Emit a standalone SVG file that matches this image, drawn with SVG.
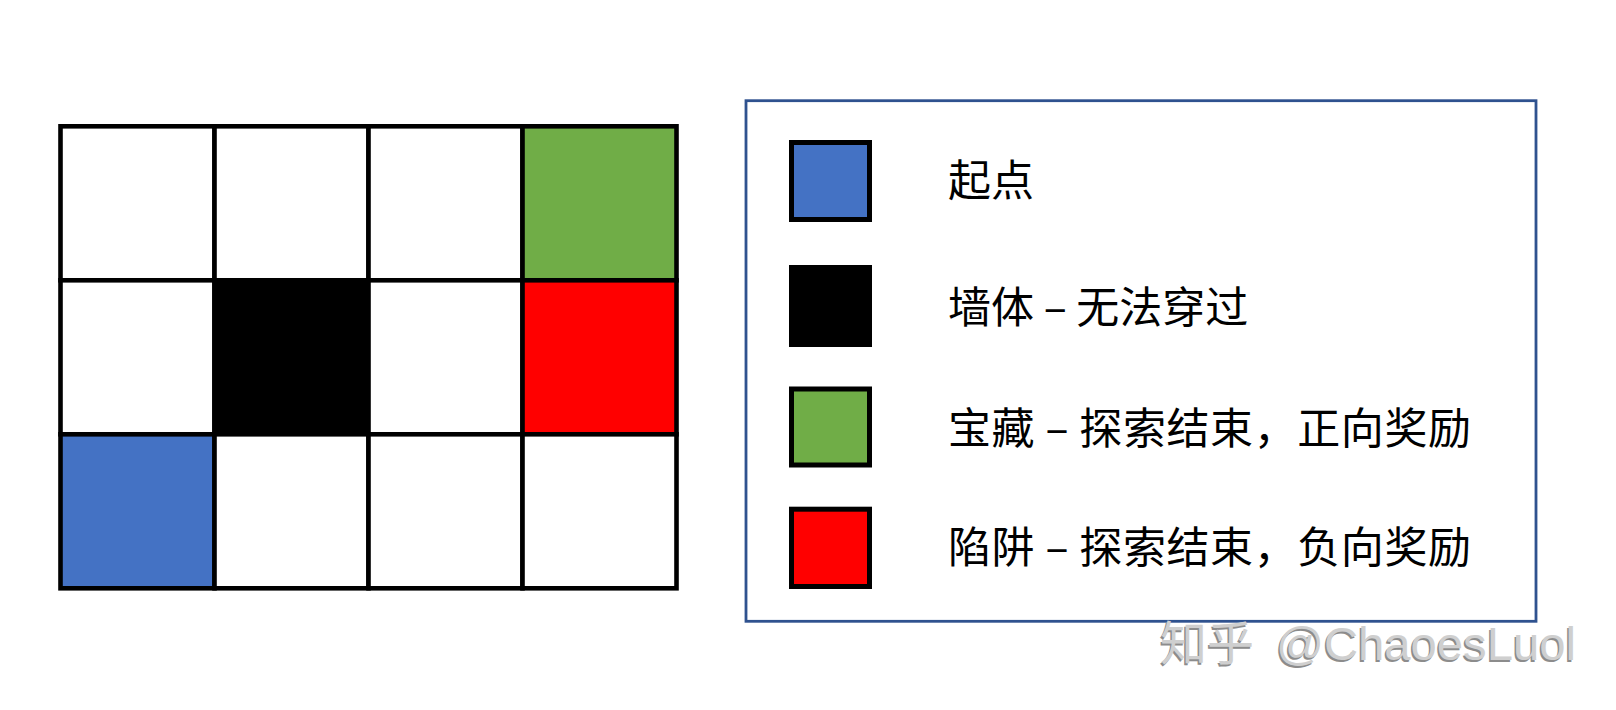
<svg xmlns="http://www.w3.org/2000/svg" width="1616" height="710" viewBox="0 0 1616 710">
  <style>
    .cell { stroke: #000; stroke-width: 4.6; }
    .key { stroke: #000; stroke-width: 5; }
    .lbl { font-family: "Noto Sans CJK SC", "Liberation Sans", sans-serif; font-size: 43px; fill: #000; }
    .wm { font-family: "Liberation Sans", "Noto Sans CJK SC", sans-serif; font-size: 47px; }
  </style>
  <rect width="1616" height="710" fill="#fff"/>
  <g id="grid">
    <rect class="cell" x="60.5" y="126.3" width="154" height="154" fill="#fff"/>
    <rect class="cell" x="214.5" y="126.3" width="154" height="154" fill="#fff"/>
    <rect class="cell" x="368.5" y="126.3" width="154" height="154" fill="#fff"/>
    <rect class="cell" x="522.5" y="126.3" width="154" height="154" fill="#70AD47"/>
    <rect class="cell" x="60.5" y="280.3" width="154" height="154" fill="#fff"/>
    <rect class="cell" x="214.5" y="280.3" width="154" height="154" fill="#000"/>
    <rect class="cell" x="368.5" y="280.3" width="154" height="154" fill="#fff"/>
    <rect class="cell" x="522.5" y="280.3" width="154" height="154" fill="#FF0000"/>
    <rect class="cell" x="60.5" y="434.3" width="154" height="154" fill="#4472C4"/>
    <rect class="cell" x="214.5" y="434.3" width="154" height="154" fill="#fff"/>
    <rect class="cell" x="368.5" y="434.3" width="154" height="154" fill="#fff"/>
    <rect class="cell" x="522.5" y="434.3" width="154" height="154" fill="#fff"/>
  </g>
  <g id="legend">
    <rect x="746" y="100.7" width="790" height="520.6" fill="none" stroke="#2F528F" stroke-width="2.8"/>
    <g id="key-start">
      <rect class="key" x="791.5" y="142.5" width="78" height="77" fill="#4472C4"/>
      <text class="lbl" x="948" y="196">起点</text>
    </g>
    <g id="key-wall">
      <rect class="key" x="791.5" y="267.5" width="78" height="77" fill="#000"/>
      <text class="lbl" x="948" y="323">墙体 – 无法穿过</text>
    </g>
    <g id="key-treasure">
      <rect class="key" x="791.5" y="389" width="78" height="76" fill="#70AD47"/>
      <text class="lbl" x="948" y="444" textLength="523" lengthAdjust="spacing">宝藏 – 探索结束，正向奖励</text>
    </g>
    <g id="key-trap">
      <rect class="key" x="791.5" y="509.2" width="78" height="77.3" fill="#FF0000"/>
      <text class="lbl" x="948" y="563" textLength="523" lengthAdjust="spacing">陷阱 – 探索结束，负向奖励</text>
    </g>
  </g>
  <g id="watermark">
    <text class="wm" x="1158.5" y="661.5" fill="#8c8c8c">知乎</text>
    <text class="wm" x="1160" y="660" fill="#cfcfcf">知乎</text>
    <text class="wm" x="1274.5" y="661.5" fill="#8c8c8c" textLength="300" lengthAdjust="spacingAndGlyphs">@ChaoesLuol</text>
    <text class="wm" x="1276" y="660" fill="#cfcfcf" textLength="300" lengthAdjust="spacingAndGlyphs">@ChaoesLuol</text>
  </g>
</svg>
